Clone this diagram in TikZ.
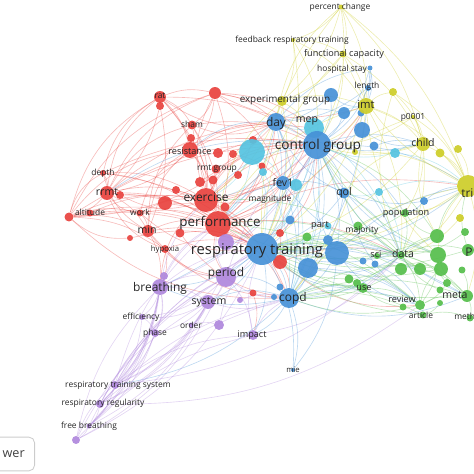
\documentclass[tikz,border=0pt]{standalone}
\usepackage{fontspec}
\setmainfont{Open Sans}
\usetikzlibrary{positioning}
\definecolor{vred}{RGB}{232,66,62}
\definecolor{vblue}{RGB}{70,145,215}
\definecolor{vcyan}{RGB}{85,195,225}
\definecolor{vyellow}{RGB}{205,205,40}
\definecolor{vgreen}{RGB}{85,190,75}
\definecolor{vpurple}{RGB}{175,135,220}
\pgfdeclarelayer{bg}
\pgfsetlayers{bg,main}

\begin{document}
\begin{tikzpicture}[x=0.025cm,y=-0.025cm,
  term/.style 2 args={circle,inner sep=0pt,fill=#1,fill opacity=0.92,minimum size=#2*0.71pt},
  lbl/.style={inner sep=0pt,text=black!85,font=\fontsize{#1}{#1}\selectfont},
  link/.style={draw=#1,draw opacity=0.35,line width=0.45pt,bend left=16},
  logo/.style={draw=black!20,line width=0.6pt,rounded corners=4pt,anchor=east,text width=40pt,align=right,minimum height=24pt,inner xsep=7pt,text=black!75,font=\fontsize{9}{10}\selectfont}]
\useasboundingbox (0,0) rectangle (474,474);
\clip (0,0) rectangle (474,474);

% red cluster
\node[term={vred}{12}] (rat) at (160,97) {};
\node[term={vred}{8}] (ratb) at (160,106) {};
\node[term={vred}{12}] (redtop) at (215,93) {};
\node[term={vred}{9}] (sham) at (192,125) {};
\node[term={vred}{8}] (redc1) at (191,138) {};
\node[term={vred}{16}] (resistance) at (190,150) {};
\node[term={vred}{10}] (redc2) at (218,153) {};
\node[term={vred}{8}] (redc3) at (233,154) {};
\node[term={vred}{8}] (redc4) at (120,195) {};
\node[term={vred}{6}] (depth) at (103,173) {};
\node[term={vred}{14}] (rrmt) at (107,193) {};
\node[term={vred}{14}] (redc5) at (165,203) {};
\node[term={vred}{8}] (redc6) at (176,190) {};
\node[term={vred}{10}] (redc13) at (200,182) {};
\node[term={vred}{9}] (redc14) at (213,180) {};
\node[term={vred}{9}] (rmtgroup) at (216,169) {};
\node[term={vred}{8}] (redc8) at (238,175) {};
\node[term={vred}{24}] (exercise) at (206,200) {};
\node[term={vred}{9}] (altitude) at (69,217) {};
\node[term={vred}{7}] (altb) at (90,213) {};
\node[term={vred}{7}] (work) at (140,213) {};
\node[term={vred}{6}] (redc7) at (130,238) {};
\node[term={vred}{12}] (min) at (148,231) {};
\node[term={vred}{9}] (redc15) at (180,233) {};
\node[term={vred}{26}] (performance) at (218,224) {};
\node[term={vred}{9}] (redc16) at (225,207) {};
\node[term={vred}{8}] (hypoxia) at (165,249) {};
\node[term={vred}{14}] (redc9) at (280,262) {};
\node[term={vred}{8}] (redc17) at (280,233) {};
\node[term={vred}{7}] (redc11) at (253,293) {};
\node[term={vred}{8}] (redc18) at (253,140) {};
\node[term={vred}{7}] (redc19) at (262,166) {};

% cyan cluster
\node[term={vcyan}{20}] (mep) at (314,128) {};
\node[term={vcyan}{26}] (cyanbig) at (252,152) {};
\node[term={vcyan}{8}] (cyanb) at (263,172) {};
\node[term={vcyan}{12}] (cyanc) at (296,185) {};
\node[term={vcyan}{10}] (cyand) at (395,153) {};
\node[term={vcyan}{8}] (cyane) at (379,192) {};
\node[term={vcyan}{7}] (cyanf) at (328,226) {};

% blue cluster
\node[term={vblue}{5}] (hospitalstay) at (370,68) {};
\node[term={vblue}{6}] (length) at (368,88) {};
\node[term={vblue}{14}] (bluea) at (331,95) {};
\node[term={vblue}{18}] (day) at (276,122) {};
\node[term={vblue}{28}] (controlgroup) at (317,145) {};
\node[term={vblue}{16}] (blueb) at (362,130) {};
\node[term={vblue}{12}] (bluec) at (344,113) {};
\node[term={vblue}{7}] (bluec2) at (361,113) {};
\node[term={vblue}{9}] (blued) at (374,146) {};
\node[term={vblue}{14}] (fev1) at (283,183) {};
\node[term={vblue}{11}] (qol) at (344,193) {};
\node[term={vblue}{8}] (bluee) at (424,201) {};
\node[term={vblue}{32}] (resp) at (262,249) {};
\node[term={vblue}{24}] (bluef) at (337,253) {};
\node[term={vblue}{20}] (blueg) at (308,268) {};
\node[term={vblue}{10}] (blueh) at (328,240) {};
\node[term={vblue}{9}] (bluei) at (290,220) {};
\node[term={vblue}{7}] (bluej) at (363,261) {};
\node[term={vblue}{7}] (bluek) at (375,264) {};
\node[term={vblue}{20}] (copd) at (289,298) {};
\node[term={vblue}{7}] (bluel) at (280,287) {};
\node[term={vblue}{6}] (bluem) at (274,297) {};
\node[term={vblue}{4}] (mie) at (293,370) {};

% yellow cluster
\node[term={vyellow}{5}] (percentchange) at (341,7) {};
\node[term={vyellow}{4}] (feedback) at (293,40) {};
\node[term={vyellow}{7}] (functional) at (343,54) {};
\node[term={vyellow}{10}] (experimental) at (282,101) {};
\node[term={vyellow}{16}] (imt) at (366,106) {};
\node[term={vyellow}{8}] (yella) at (393,92) {};
\node[term={vyellow}{4}] (p0001) at (413,117) {};
\node[term={vyellow}{14}] (child) at (423,144) {};
\node[term={vyellow}{9}] (yellb) at (440,153) {};
\node[term={vyellow}{8}] (yellc) at (458,149) {};
\node[term={vyellow}{22}] (trial) at (468,186) {};
\node[term={vyellow}{8}] (yelld) at (460,218) {};
\node[term={vyellow}{6}] (yelle) at (355,152) {};

% green cluster
\node[term={vgreen}{8}] (population) at (405,213) {};
\node[term={vgreen}{9}] (majority) at (358,226) {};
\node[term={vgreen}{9}] (greena) at (307,237) {};
\node[term={vgreen}{6}] (sci) at (377,256) {};
\node[term={vgreen}{8}] (data) at (401,255) {};
\node[term={vgreen}{12}] (greenb) at (401,269) {};
\node[term={vgreen}{12}] (greenc) at (420,269) {};
\node[term={vgreen}{14}] (greend) at (437,236) {};
\node[term={vgreen}{16}] (greene) at (438,255) {};
\node[term={vgreen}{14}] (greenf) at (441,269) {};
\node[term={vgreen}{7}] (greeng) at (462,270) {};
\node[term={vgreen}{8}] (greenh) at (447,283) {};
\node[term={vgreen}{7}] (greeni) at (440,290) {};
\node[term={vgreen}{12}] (meta) at (467,296) {};
\node[term={vgreen}{6}] (greenj) at (440,303) {};
\node[term={vgreen}{10}] (review) at (420,305) {};
\node[term={vgreen}{7}] (greenk) at (403,307) {};
\node[term={vgreen}{7}] (article) at (423,315) {};
\node[term={vgreen}{7}] (meth) at (470,318) {};
\node[term={vgreen}{10}] (use) at (363,288) {};
\node[term={vgreen}{9}] (greenl) at (349,279) {};
\node[term={vgreen}{8}] (greenm) at (357,283) {};
\node[term={vgreen}{12}] (greenn) at (468,250) {};
\node[term={vgreen}{8}] (greenp) at (465,232) {};

% purple cluster
\node[term={vpurple}{16}] (breathing) at (160,287) {};
\node[term={vpurple}{8}] (purpa) at (164,276) {};
\node[term={vpurple}{20}] (period) at (226,277) {};
\node[term={vpurple}{16}] (purpd) at (226,242) {};
\node[term={vpurple}{14}] (system) at (208,302) {};
\node[term={vpurple}{6}] (purpe) at (240,300) {};
\node[term={vpurple}{6}] (efficiency) at (142,317) {};
\node[term={vpurple}{5}] (order) at (191,325) {};
\node[term={vpurple}{10}] (purpb) at (219,325) {};
\node[term={vpurple}{8}] (phase) at (155,333) {};
\node[term={vpurple}{10}] (impact) at (253,335) {};
\node[term={vpurple}{8}] (rts) at (115,385) {};
\node[term={vpurple}{8}] (regularity) at (100,404) {};
\node[term={vpurple}{5}] (freebreathing) at (89,426) {};
\node[term={vpurple}{8}] (purpc) at (76,440) {};

% links
\begin{pgfonlayer}{bg}
\clip (0,0) rectangle (474,474);
\foreach \a/\b in {rat/redtop,rat/sham,rat/resistance,rat/exercise,rat/performance,rat/controlgroup,ratb/rrmt,ratb/min,
  redtop/sham,redtop/day,redtop/resistance,redtop/controlgroup,redtop/performance,redtop/mep,sham/resistance,sham/exercise,
  sham/performance,sham/controlgroup,resistance/exercise,resistance/performance,resistance/rrmt,resistance/mep,resistance/day,
  rmtgroup/exercise,rmtgroup/controlgroup,depth/rrmt,depth/exercise,depth/performance,depth/resp,depth/controlgroup,
  rrmt/exercise,rrmt/performance,rrmt/altitude,rrmt/controlgroup,rrmt/resp,rrmt/min,rrmt/day,altitude/work,altitude/performance,
  altitude/exercise,altitude/resp,altitude/min,altitude/hypoxia,altitude/controlgroup,altb/exercise,altb/resp,work/performance,
  work/exercise,work/min,min/performance,min/resp,min/breathing,exercise/performance,exercise/controlgroup,exercise/resp,
  exercise/day,exercise/cyanbig,exercise/copd,performance/resp,performance/controlgroup,performance/copd,performance/data,
  performance/trial,hypoxia/resp,hypoxia/breathing,redc5/resp,redc9/copd,redc9/controlgroup,redc11/impact,redc1/exercise,
  redc2/controlgroup,redc3/fev1,redc4/performance,redc6/resp,redc13/controlgroup,redc15/resp,redc16/fev1,redc7/resp,
  redc17/performance,redc18/exercise,redc19/performance,redc9/data,redtop/fev1}
  \draw[link=vred] (\a) to (\b);
\foreach \a/\b in {rat/rrmt,rat/altitude,rat/depth,redtop/rrmt,redtop/altitude,redtop/exercise,sham/rrmt,sham/min,
  resistance/altitude,resistance/min,resistance/work,depth/min,depth/altitude,rrmt/hypoxia,rrmt/work,altitude/redc7,
  altitude/day,altitude/copd,work/resp,min/copd,exercise/fev1,exercise/mep,performance/day,performance/fev1,performance/mep,
  performance/imt,exercise/imt,rat/day,redtop/imt,sham/day,redc5/controlgroup,redc4/exercise,hypoxia/period,min/period,
  exercise/breathing,performance/period,redc15/copd,redc9/review,redc17/controlgroup}
  \draw[link=vred,bend left=-22] (\a) to (\b);
\foreach \a/\b in {hospitalstay/controlgroup,hospitalstay/length,hospitalstay/imt,hospitalstay/copd,length/controlgroup,
  length/day,bluea/controlgroup,day/controlgroup,day/resp,day/fev1,day/performance,day/copd,controlgroup/resp,
  controlgroup/fev1,controlgroup/qol,controlgroup/copd,controlgroup/bluef,controlgroup/blueg,controlgroup/data,
  controlgroup/trial,controlgroup/child,controlgroup/population,controlgroup/breathing,controlgroup/period,fev1/resp,
  fev1/copd,fev1/qol,qol/copd,qol/resp,qol/data,resp/copd,resp/bluef,resp/blueg,resp/breathing,resp/period,resp/system,
  resp/impact,resp/data,resp/review,resp/meta,bluef/copd,bluef/data,blueg/copd,copd/mie,resp/mie,bluef/mie,copd/impact,
  copd/review,copd/use,blueb/controlgroup,blueb/imt,bluec/controlgroup,blued/child,bluee/trial,bluee/population,
  bluef/trial,blueg/review,bluea/day,bluei/resp,blueh/controlgroup,bluej/data,bluek/review,copd/breathing,copd/rts}
  \draw[link=vblue] (\a) to (\b);
\foreach \a/\b in {controlgroup/exercise,controlgroup/rrmt,controlgroup/greene,controlgroup/meta,day/resistance,day/qol,
  day/child,fev1/performance,fev1/data,qol/trial,qol/review,resp/trial,resp/greend,resp/use,copd/data,copd/meta,
  copd/system,copd/period,bluef/review,blueg/data,bluea/imt,bluec/day,blueb/child,length/imt,hospitalstay/day}
  \draw[link=vblue,bend left=-20] (\a) to (\b);
\foreach \a/\b in {mep/controlgroup,mep/day,mep/resp,mep/imt,mep/performance,cyanbig/controlgroup,cyanbig/resp,
  cyanbig/performance,cyanbig/fev1,cyanbig/copd,cyand/child,cyand/controlgroup,cyane/trial,cyane/qol,cyanf/resp,
  cyanc/resp,cyanb/exercise,mep/data,cyanbig/exercise,cyanbig/day,mep/copd,cyanc/copd,cyand/trial,cyane/data}
  \draw[link=vcyan] (\a) to (\b);
\foreach \a/\b in {percentchange/feedback,percentchange/imt,percentchange/functional,percentchange/child,percentchange/trial,
  percentchange/controlgroup,percentchange/experimental,feedback/experimental,feedback/imt,feedback/functional,
  feedback/controlgroup,feedback/resp,functional/imt,functional/experimental,functional/controlgroup,functional/child,
  experimental/controlgroup,experimental/day,experimental/imt,experimental/resp,experimental/exercise,imt/controlgroup,
  imt/child,imt/trial,imt/resp,imt/copd,imt/yella,yella/trial,yella/child,p0001/child,p0001/trial,p0001/controlgroup,
  child/trial,child/data,child/population,child/controlgroup,yellb/trial,yellc/trial,trial/data,trial/meta,trial/resp,
  trial/population,yelld/data,yelle/trial,imt/data,child/resp}
  \draw[link=vyellow] (\a) to (\b);
\foreach \a/\b in {percentchange/resp,percentchange/day,functional/trial,functional/resp,experimental/performance,
  imt/performance,imt/greene,child/greend,trial/greene,trial/copd,yella/data,p0001/resp,child/qol}
  \draw[link=vyellow,bend left=-20] (\a) to (\b);
\foreach \a/\b in {population/data,population/resp,population/controlgroup,majority/data,majority/resp,majority/population,
  sci/data,data/review,data/meta,data/greene,greenb/greenf,greenc/meta,greend/trial,greene/review,greenf/resp,greeng/meta,
  use/review,use/resp,review/article,review/meta,article/meth,meta/meth,greend/resp,greene/controlgroup,greenb/copd,
  review/copd,data/copd,data/performance,greena/resp,greenh/review,greeni/data,greenj/article,greenk/use,greenl/resp,
  greenm/copd,greenn/trial,greenp/data,greenn/resp,meta/resp,article/resp,greenc/controlgroup}
  \draw[link=vgreen] (\a) to (\b);
\foreach \a/\b in {data/resp,greene/resp,greenf/copd,greend/controlgroup,review/resp,meta/copd,greenb/resp,greenc/resp,
  use/copd,greenl/data,greend/data,greene/meta,greenf/review,greenn/data,greenh/data,population/greend,article/copd,
  review/performance,data/exercise,greenc/performance}
  \draw[link=vgreen,bend left=-18] (\a) to (\b);
\foreach \a/\b in {breathing/period,breathing/system,breathing/efficiency,breathing/phase,breathing/resp,breathing/performance,
  breathing/exercise,breathing/rts,breathing/regularity,breathing/freebreathing,period/system,period/resp,period/performance,
  period/impact,period/controlgroup,system/efficiency,system/phase,system/order,system/resp,system/rts,system/regularity,
  efficiency/phase,efficiency/rts,phase/rts,phase/regularity,phase/freebreathing,order/purpb,purpb/resp,impact/resp,
  impact/copd,rts/regularity,rts/freebreathing,rts/resp,rts/period,rts/performance,regularity/freebreathing,
  regularity/period,regularity/resp,freebreathing/purpc,purpc/rts,purpc/breathing,freebreathing/period,rts/impact,
  purpc/system,purpa/performance,purpd/resp,purpe/copd,regularity/copd,freebreathing/copd,purpc/impact}
  \draw[link=vpurple] (\a) to (\b);
\foreach \a/\b in {rts/breathing,regularity/breathing,freebreathing/breathing,purpc/period,rts/system,regularity/system,
  freebreathing/system,phase/breathing,efficiency/period,breathing/controlgroup,period/copd,system/copd,impact/data,
  rts/data,regularity/review,purpc/resp}
  \draw[link=vpurple,bend left=-18] (\a) to (\b);
\end{pgfonlayer}

% labels
\node[lbl=6] (percentchange-t) at (340,7) {percent change};
\node[lbl=6] (feedback-t) at (292,40) {feedback respiratory training};
\node[lbl=6.5] (functional-t) at (344,54) {functional capacity};
\node[lbl=6] (hospitalstay-t) at (342,69) {hospital stay};
\node[lbl=6] (length-t) at (367,86) {length};
\node[lbl=7] (experimental-t) at (285,100) {experimental group};
\node[lbl=8] (imt-t) at (366,104) {imt};
\node[lbl=6] (p0001-t) at (413,117) {p0001};
\node[lbl=8.5] (day-t) at (276,123) {day};
\node[lbl=7.5] (mep-t) at (307,121) {mep};
\node[lbl=9.7] (controlgroup-t) at (318,146) {control group};
\node[lbl=7.5] (child-t) at (423,143) {child};
\node[lbl=8.5,anchor=west] (trial-t) at (461,193) {tri};
\node[lbl=6] (rat-t) at (160,96) {rat};
\node[lbl=6] (sham-t) at (192,124) {sham};
\node[lbl=6.5] (resistance-t) at (190,151) {resistance};
\node[lbl=6] (rmtgroup-t) at (217,169) {rmt group};
\node[lbl=6] (depth-t) at (103,173) {depth};
\node[lbl=7.5] (rrmt-t) at (107,192) {rrmt};
\node[lbl=8.5] (exercise-t) at (206,197) {exercise};
\node[lbl=6] (altitude-t) at (90,212) {altitude};
\node[lbl=6] (work-t) at (140,212) {work};
\node[lbl=7.5] (min-t) at (147,230) {min};
\node[lbl=9.5] (performance-t) at (220,223) {performance};
\node[lbl=5.5] (hypoxia-t) at (165,249) {hypoxia};
\node[lbl=6] (magnitude-t) at (270,199) {magnitude};
\node[lbl=7.5] (fev1-t) at (283,183) {fev1};
\node[lbl=7.5] (qol-t) at (344,193) {qol};
\node[lbl=6.5] (part-t) at (320,226) {part};
\node[lbl=6] (majority-t) at (362,230) {majority};
\node[lbl=6.5] (population-t) at (406,213) {population};
\node[lbl=10.5] (resp-t) at (257,251) {respiratory training};
\node[lbl=6.5] (sci-t) at (376,254) {sci};
\node[lbl=7.5] (data-t) at (403,254) {data};
\node[lbl=8.5,anchor=west] (greenn-t) at (465,252) {P};
\node[lbl=6.5] (use-t) at (364,288) {use};
\node[lbl=6.5] (review-t) at (402,299) {review};
\node[lbl=6] (article-t) at (421,315) {article};
\node[lbl=7.5,anchor=west] (meta-t) at (442,295) {meta};
\node[lbl=6,anchor=west] (meth-t) at (454,316) {meth};
\node[lbl=8.5] (copd-t) at (293,298) {copd};
\node[lbl=5.5] (mie-t) at (293,370) {mie};
\node[lbl=6.5] (impact-t) at (252,335) {impact};
\node[lbl=8.5] (breathing-t) at (160,288) {breathing};
\node[lbl=8.5] (period-t) at (226,273) {period};
\node[lbl=7.5] (system-t) at (209,302) {system};
\node[lbl=6] (efficiency-t) at (141,317) {efficiency};
\node[lbl=6] (phase-t) at (155,333) {phase};
\node[lbl=6] (order-t) at (191,325) {order};
\node[lbl=6] (rts-t) at (118,385) {respiratory training system};
\node[lbl=6] (regularity-t) at (103,403) {respiratory regularity};
\node[lbl=6] (freebreathing-t) at (89,426) {free breathing};
\node[logo] (vos) at (35,454) {wer};
\end{tikzpicture}
\end{document}
